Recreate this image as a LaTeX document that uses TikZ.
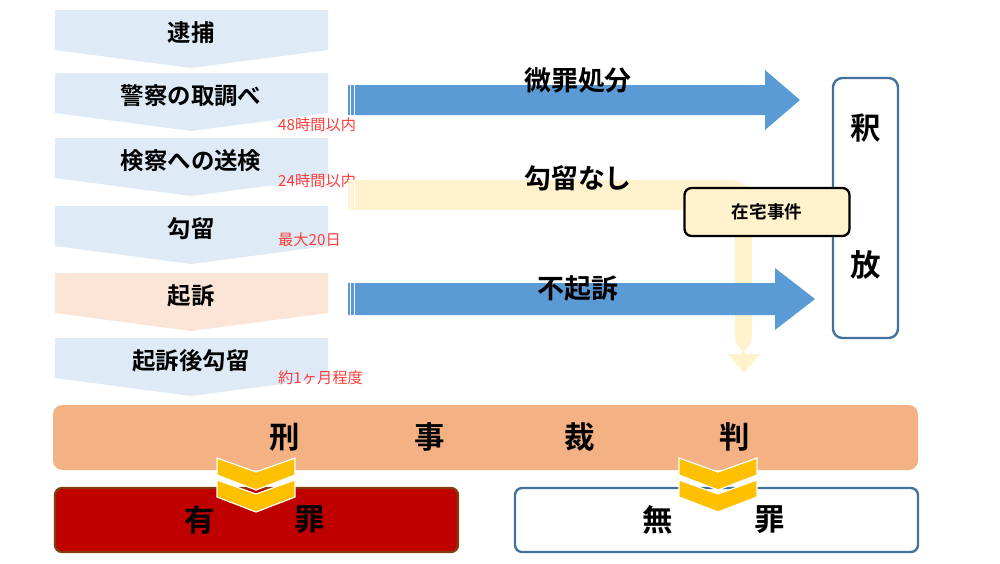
\documentclass[tikz,border=0pt]{standalone}
\usepackage{fontspec}
\setmainfont{Noto Sans CJK JP}[BoldFont={* Bold}]
\definecolor{stepblue}{HTML}{DEEBF7}
\definecolor{steppeach}{HTML}{FBE5D6}
\definecolor{flowblue}{HTML}{5B9BD5}
\definecolor{flowyellow}{HTML}{FFF2CC}
\definecolor{trialorange}{HTML}{F4B183}
\definecolor{guiltred}{HTML}{C00000}
\definecolor{guiltbrown}{HTML}{843C0C}
\definecolor{boxblue}{HTML}{41719C}
\definecolor{chevgold}{HTML}{FFC000}
\definecolor{notered}{HTML}{FF3B3B}
\usetikzlibrary{positioning}

\begin{document}
\begin{tikzpicture}[x=0.3mm, y=-0.3mm]

                \tikzstyle{steptext} = [font=\bfseries\fontsize{20}{20}\selectfont]
                \tikzstyle{note}     = [anchor=west, text=notered, font=\fontsize{13}{13}\selectfont, inner sep=0pt]
                \tikzstyle{flowtext} = [font=\bfseries\fontsize{23}{23}\selectfont]
                \tikzstyle{bigtext}  = [font=\bfseries\fontsize{26}{26}\selectfont]
                \useasboundingbox (0,0) rectangle (1000,563);

                % left column of steps
                \foreach \t/\c/\name/\txt in {10/stepblue/arrest/逮捕, 73/stepblue/police/警察の取調べ,
                        138/stepblue/prosec/検察への送検, 206/stepblue/detain/勾留,
                        273/steppeach/indict/起訴, 338/stepblue/after/起訴後勾留} {
                        \fill[\c] (55,\t) -- (328,\t) -- (328,\t+40) -- (191,\t+58) -- (55,\t+40) -- cycle;
                        \node [steptext](\name) at (191,\t+23) {\txt};
                }
                \node [note](n48) at (278,125) {48時間以内};
                \node [note](n24) at (278,181) {24時間以内};
                \node [note](n20) at (278,240) {最大20日};
                \node [note](n1m) at (278,378) {約1ヶ月程度};

                % yellow path
                \fill[flowyellow, rounded corners=18pt] (348,180) -- (752,180) -- (752,356) -- (735,356)
                        -- (735,210) -- (348,210) -- cycle;
                \fill[flowyellow] (752,354) -- (760,354) -- (744,373) -- (728,354) -- (735,354) -- cycle;
                \fill[flowyellow] (348,180) rectangle (700,210);
                \foreach \x in {350,354} \draw[white, line width=0.8pt] (\x,180) -- (\x,210);
                \node [flowtext](nodet) at (578,178) {勾留なし};

                % blue arrows
                \fill[flowblue] (348,85) -- (765,85) -- (765,70) -- (800,100) -- (765,130) -- (765,115) -- (348,115) -- cycle;
                \fill[flowblue] (348,283) -- (775,283) -- (775,268) -- (815,299) -- (775,330) -- (775,315) -- (348,315) -- cycle;
                \foreach \x in {350,354} {
                        \draw[white, line width=0.8pt] (\x,85) -- (\x,115);
                        \draw[white, line width=0.8pt] (\x,283) -- (\x,315);
                }
                \node [flowtext](minor) at (578,80) {微罪処分};
                \node [flowtext](noind) at (578,288) {不起訴};

                % release box
                \draw[boxblue, line width=2pt, fill=white, rounded corners=8pt] (833,78) rectangle (898,338);
                \node [bigtext](rel1) at (866,128) {釈};
                \node [bigtext](rel2) at (866,265) {放};

                \node [draw, line width=2pt, rounded corners=6pt, fill=flowyellow, minimum width=49.5mm,
                        minimum height=14.4mm, font=\bfseries\fontsize{15}{15}\selectfont](home) at (767,212) {在宅事件};

                % trial
                \fill[trialorange, rounded corners=8pt] (53,405) rectangle (918,470);
                \foreach \x/\ch in {285/刑, 430/事, 580/裁, 735/判}
                        \node [bigtext](t\x) at (\x,437) {\ch};

                \draw[guiltbrown, line width=2pt, fill=guiltred, rounded corners=6pt] (55,488) rectangle (458,552);
                \draw[boxblue, line width=2pt, fill=white, rounded corners=6pt] (515,488) rectangle (918,552);
                \node [bigtext](g1) at (200,520) {有};
                \node [bigtext](g2) at (310,520) {罪};
                \node [bigtext](i1) at (658,520) {無};
                \node [bigtext](i2) at (770,520) {罪};

                % double chevrons
                \foreach \c in {256,718}
                        \foreach \t in {458,480}
                                \fill[chevgold, draw=white, line width=1pt] (\c-39,\t) -- (\c,\t+14) -- (\c+39,\t) -- (\c+39,\t+17)
                                        -- (\c,\t+32) -- (\c-39,\t+17) -- cycle;
\end{tikzpicture}
\end{document}
